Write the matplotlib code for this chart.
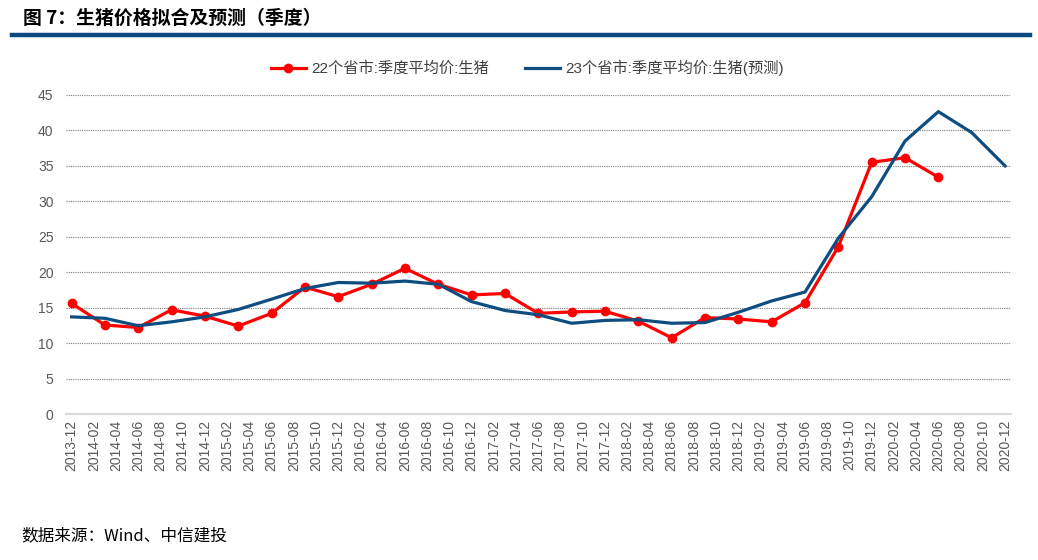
import matplotlib
matplotlib.use("Agg")
import matplotlib.pyplot as plt
from matplotlib.lines import Line2D

plt.rcParams["font.family"] = ["Liberation Sans", "Noto Sans CJK SC", "DejaVu Sans"]

# tick labels: every 2 months from 2013-12 to 2020-12
tick_labels = ["2013-12"]
for yr in range(2014, 2021):
    for mo in range(2, 13, 2):
        tick_labels.append(f"{yr}-{mo:02d}")

# quarterly values, first point is 2013-12
actual = [15.6, 12.55, 12.2, 14.7, 13.8, 12.4, 14.2, 17.9, 16.55, 18.3,
          20.55, 18.3, 16.8, 17.0, 14.2, 14.4, 14.5, 13.1, 10.75, 13.6,
          13.4, 13.0, 15.7, 23.6, 35.5, 36.15, 33.4]
fitted = [13.7, 13.5, 12.45, 13.0, 13.7, 14.75, 16.2, 17.7, 18.55, 18.45,
          18.75, 18.3, 15.85, 14.6, 14.0, 12.8, 13.2, 13.3, 12.8, 12.9,
          14.35, 15.95, 17.2, 24.8, 30.65, 38.5, 42.65, 39.7, 35.0]

label_actual = "22个省市:季度平均价:生猪"
label_fitted = "23个省市:季度平均价:生猪(预测)"

x_actual = [3 * i for i in range(len(actual))]
x_fitted = [3 * i for i in range(len(fitted))]

fig = plt.figure(figsize=(10.38, 5.60), dpi=100)
ax = fig.add_axes([0.0636, 0.2607, 0.9100, 0.5697])

ax.plot(x_actual, actual, color="#ff0000", lw=2.3, marker="o", ms=6,
        label=label_actual, zorder=3)
ax.plot(x_fitted, fitted, color="#0d4d80", lw=2.3, label=label_fitted, zorder=4)

ax.set_xlim(-0.5, 84.5)
ax.set_ylim(0, 45)
ax.set_yticks(range(0, 46, 5))
ax.set_xticks(range(0, 85, 2))
ax.set_xticklabels(tick_labels, rotation=90)
ax.tick_params(axis="both", length=0, labelsize=10, colors="#595959")
ax.tick_params(axis="y", pad=9)
ax.tick_params(axis="x", pad=4)

for v in range(5, 46, 5):
    ax.axhline(v, color="#7f7f7f", lw=0.8, ls=(0, (1, 1)), zorder=1)

for s in ["top", "right", "left"]:
    ax.spines[s].set_visible(False)
ax.spines["bottom"].set_color("#d9d9d9")
ax.spines["bottom"].set_linewidth(1.5)

fig.legend(loc="center", bbox_to_anchor=(0.508, 0.879), ncol=2, frameon=False,
           handlelength=2.3, handletextpad=0.35, columnspacing=2.35,
           labelcolor="#404040",
           prop={"family": ["Liberation Sans", "Noto Sans CJK SC"], "size": 11})

fig.text(0.022, 0.968, "图 7：生猪价格拟合及预测（季度）", fontsize=13.6,
         fontweight="bold", ha="left", va="center",
         family=["Noto Sans CJK SC", "DejaVu Sans"])
fig.add_artist(Line2D([0.012, 0.992], [0.937, 0.937], color="#0b4a80", lw=3.2))

fig.text(0.021, 0.043, "数据来源：Wind、中信建投", fontsize=12, style="italic",
         ha="left", va="center", family=["Noto Sans CJK SC", "DejaVu Sans"])

fig.savefig("out.png", dpi=100)
